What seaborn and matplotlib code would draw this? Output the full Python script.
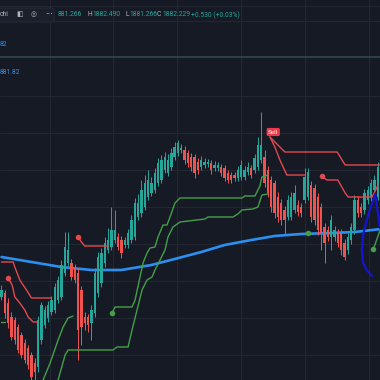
import numpy as np
import pandas as pd
import seaborn as sns
import matplotlib.pyplot as plt
from matplotlib.patches import FancyBboxPatch

# candle data, in price ticks above the bottom of the visible window
opens = [83, 87, 77, 63, 60, 53, 45, 37, 32, 25, 17, 13, 40, 55, 62, 68, 70, 80, 83, 107,
         117, 117, 112, 107, 90, 63, 63, 57, 67, 87, 97, 117, 130, 133, 140, 143, 140, 135, 135, 140,
         143, 163, 167, 173, 183, 187, 190, 197, 200, 210, 207, 213, 223, 227, 230, 230, 227, 223, 223, 218,
         213, 215, 216, 217, 212, 212, 213, 212, 207, 205, 205, 202, 203, 203, 208, 212, 210, 213, 220, 223,
         210, 200, 197, 183, 177, 170, 163, 163, 170, 175, 173, 180, 183, 195, 192, 183, 173, 153, 150, 143,
         143, 147, 147, 137, 130, 140, 150, 180, 173, 170, 180, 183, 190, 183]
closes = [90, 67, 57, 43, 40, 30, 25, 20, 15, 3, 8, 60, 75, 70, 75, 80, 93, 100, 115, 133,
          130, 103, 100, 50, 53, 57, 55, 70, 107, 123, 127, 137, 140, 150, 150, 133, 127, 140, 147, 160,
          177, 177, 190, 197, 200, 197, 207, 217, 220, 223, 220, 227, 233, 237, 232, 220, 217, 213, 207, 210,
          220, 218, 218, 210, 215, 215, 207, 202, 200, 200, 202, 210, 215, 210, 213, 205, 222, 235, 235, 197,
          187, 173, 167, 163, 160, 160, 180, 183, 187, 168, 167, 203, 208, 163, 160, 150, 147, 137, 143, 160,
          150, 137, 130, 123, 143, 153, 180, 167, 167, 187, 190, 197, 200, 213]
highs = [95, 90, 82, 68, 63, 56, 48, 41, 35, 28, 22, 64, 78, 74, 79, 84, 97, 104, 120, 148,
         148, 121, 116, 112, 94, 68, 66, 75, 112, 128, 132, 143, 152, 173, 170, 147, 144, 143, 151, 165,
         182, 186, 200, 205, 210, 203, 212, 222, 225, 228, 226, 232, 238, 240, 236, 234, 230, 227, 226, 222,
         224, 222, 221, 220, 219, 218, 216, 215, 210, 208, 208, 214, 220, 214, 218, 215, 226, 243, 268, 230,
         214, 204, 200, 188, 181, 174, 185, 188, 195, 180, 177, 212, 212, 199, 196, 187, 177, 157, 154, 165,
         154, 151, 151, 141, 147, 157, 185, 184, 177, 191, 194, 201, 205, 218]
lows = [80, 62, 52, 40, 36, 27, 22, 17, 11, 0, 0, 8, 36, 52, 58, 65, 67, 77, 80, 104,
        114, 100, 97, 20, 35, 50, 48, 40, 63, 83, 93, 113, 127, 130, 137, 130, 122, 132, 132, 137,
        140, 160, 163, 170, 180, 184, 187, 194, 197, 207, 204, 210, 220, 224, 227, 216, 213, 209, 202, 206,
        210, 212, 213, 206, 209, 209, 204, 199, 197, 197, 199, 199, 200, 200, 205, 202, 207, 210, 217, 193,
        183, 168, 162, 158, 155, 145, 160, 160, 167, 164, 163, 177, 180, 158, 155, 145, 130, 117, 139, 130,
        139, 133, 125, 120, 126, 136, 146, 163, 163, 166, 176, 179, 186, 180]

# long moving average
ma_idx = [0, 9, 18, 27, 36, 45, 52, 60, 67, 75, 82, 90, 99, 106, 114]
ma_val = [123, 118, 113, 110, 110, 115, 121, 128, 135, 140, 144, 146, 147, 148, 151]

# trailing stop lines (resistance = red, support = green)
red_lines = [
    ([0, 3.5, 4, 5.5, 7.5, 9, 15], [118, 118, 113, 100, 90, 82, 82]),
    ([2, 3.2, 4, 5.5, 7, 8, 9.5, 10.7], [102, 95, 83, 77, 70, 63, 58, 58]),
    ([23, 24, 25, 32], [143, 138, 134, 134]),
    ([80.6, 83, 85.1, 100.8, 103.2, 114], [243, 235, 228, 228, 215, 215]),
    ([80.6, 82.1, 83.6, 85.7, 91.2], [243, 233, 220, 205, 205]),
    ([96.2, 97.7, 101, 103.2, 104.1, 111.3, 113.1], [204, 200, 200, 187, 183, 183, 195]),
]
green_lines = [
    ([0, 1], [58, 58]),
    ([12.5, 14.6, 17, 18.5, 20, 21.5], [0, 17, 40, 53, 62, 64]),
    ([17, 19.1, 20, 33.5, 34.7, 38, 39.2, 40.7, 42.2, 43.7, 45.2, 46.1, 47.6, 49.1, 50, 51.5, 53.6,
      61.1, 62, 69.5, 71, 72.2, 75.5, 77, 78.2, 80],
     [0, 25, 30, 30, 33, 33, 50, 70, 90, 100, 103, 110, 120, 130, 143, 153, 158,
      161, 163, 163, 166, 170, 171, 173, 185, 186]),
    ([33.2, 34.1, 39.2, 40.1, 41.6, 42.5, 43.7, 44.6, 46.1, 47, 48.5, 49.7, 50.6, 52.1, 53.6,
      72.2, 73.1, 76.1, 77.6, 78.2, 80],
     [67, 73, 73, 80, 103, 117, 127, 132, 133, 143, 155, 155, 163, 177, 182,
      182, 184, 184, 194, 203, 205]),
    ([111.7, 113.7], [131, 150]),
]
red_dots_x = [2, 23, 96.2]
red_dots_y = [102, 143, 204]
green_dots_x = [33.2, 92, 111.7]
green_dots_y = [67, 147, 131]

# hand drawn curve
draw_x = [113.7, 112.2, 110.7, 109.5, 108.6, 108.2, 108.5, 109.6, 111.3, 113.7]
draw_y = [203, 186, 171, 158, 145, 130, 118, 110, 104, 100]

bg = '#161a25'
grid_c = '#232733'
up_c = '#26a69a'
dn_c = '#ef5350'
band_red = '#e5484d'
band_green = '#43a047'

sns.set_style("dark", rc={'axes.facecolor': bg, 'figure.facecolor': bg})

fig = plt.figure(figsize=(3.8, 3.8), dpi=100)
ax = fig.add_axes([0, 0, 1, 1])
ax.set_facecolor(bg)

df = pd.DataFrame({'o': opens, 'c': closes, 'h': highs, 'l': lows})
df['i'] = np.arange(len(df))
df['up'] = df['c'] >= df['o']
colors = np.where(df['up'], up_c, dn_c)

# grid
for gx in [14.6, 33.5, 52.7, 71.9, 91.1, 110.4]:
    ax.axvline(gx, color=grid_c, lw=0.8, zorder=0)
for gy in [359, 284, 247, 210, 173, 136, 99, 62, 25]:
    ax.axhline(gy, color=grid_c, lw=0.8, zorder=0)
ax.axhline(323, color='#2c4a50', lw=1.2, zorder=0)
ax.axhline(374, color=grid_c, lw=0.8, zorder=0)

sns.lineplot(x=ma_idx, y=ma_val, ax=ax, color='#2b8ff0', linewidth=1.9, zorder=2)

ax.vlines(df['i'], df['l'], df['h'], colors=colors, lw=0.7, zorder=3)
body_h = np.maximum((df['c'] - df['o']).abs(), 1.2)
ax.bar(df['i'], body_h, bottom=np.minimum(df['o'], df['c']), width=0.7,
       color=colors, linewidth=0, zorder=3)

for xs, ys in red_lines:
    sns.lineplot(x=xs, y=ys, ax=ax, color=band_red, linewidth=1.0, zorder=4)
for xs, ys in green_lines:
    sns.lineplot(x=xs, y=ys, ax=ax, color=band_green, linewidth=1.0, zorder=4)
sns.scatterplot(x=red_dots_x, y=red_dots_y, ax=ax, color=band_red, s=16, linewidth=0, zorder=5)
sns.scatterplot(x=green_dots_x, y=green_dots_y, ax=ax, color=band_green, s=16, linewidth=0, zorder=5)

sns.lineplot(x=draw_x, y=draw_y, ax=ax, sort=False, color='#1414d2', linewidth=1.6, zorder=6)

ax.text(81.6, 248, 'Sell', color='white', fontsize=4.5, ha='center', va='center', zorder=7,
        family='Roboto', bbox=dict(boxstyle='round,pad=0.25', fc='#f23645', ec='none'))

ax.set_xlim(-0.45, 113.66)
ax.set_ylim(0, 380)
ax.set_xticks([])
ax.set_yticks([])
for s in ax.spines.values():
    s.set_visible(False)

# legend header
box = FancyBboxPatch((-0.01, 1 - 22 / 380), 58 / 380, 14 / 380, boxstyle='round,pad=0,rounding_size=0.006',
                     transform=fig.transFigure, fc='#1b1f2b', ec='#2a2e39', lw=0.6, zorder=8)
fig.patches.append(box)
fy = 1 - 15 / 380
lab_c = '#b2b5be'
txt = dict(fontsize=4.9, family=['Roboto', 'DejaVu Sans'], va='center', zorder=9)
fig.text(0 / 380, fy, 'chi', color=lab_c, **txt)
fig.text(16 / 380, fy, '◧', color=lab_c, **txt)
fig.text(31 / 380, fy, '◎', color=lab_c, **txt)
fig.text(45 / 380, fy, '•••', color=lab_c, fontsize=3.2, family='DejaVu Sans', va='center', zorder=9)
fig.text(58 / 380, fy, '881.266', color=up_c, **txt)
fig.text(87 / 380, fy, 'H', color=lab_c, **txt)
fig.text(92 / 380, fy, '1882.490', color=up_c, **txt)
fig.text(125 / 380, fy, 'L', color=lab_c, **txt)
fig.text(129 / 380, fy, '1881.266', color=up_c, **txt)
fig.text(157 / 380, fy, 'C', color=lab_c, **txt)
fig.text(162 / 380, fy, '1882.229', color=up_c, **txt)
fig.text(191 / 380, fy, '+0.530 (+0.03%)', color=up_c, **txt)
fig.text(0, 1 - 45 / 380, '82', color='#2f8ee8', **txt)
fig.text(0, 1 - 73 / 380, '881.82', color='#2f8ee8', **txt)

fig.savefig('out.png', dpi=100, facecolor=bg)
